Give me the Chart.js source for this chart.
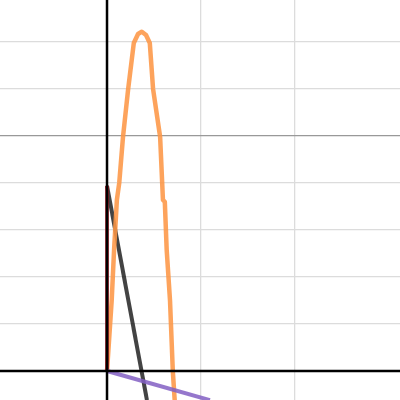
<!DOCTYPE html>
<html>
<head>
<script src="https://cdn.jsdelivr.net/npm/chart.js@4"></script>
<style>html,body{margin:0;padding:0;background:#fff}#wrap{width:400px;height:400px}</style>
</head>
<body>
<div id="wrap"><canvas id="c"></canvas></div>
<script>
// curves (x, y in graph units)
const parabolaX = [0, 0.1, 0.15, 0.21, 0.26, 0.34, 0.45, 0.57, 0.66, 0.74, 0.83, 0.91, 0.98, 1.13, 1.19, 1.23, 1.27, 1.34, 1.40, 1.44];
const parabolaY = [0, 1.51, 2.57, 3.64, 4.0, 4.98, 6.0, 6.98, 7.17, 7.22, 7.15, 6.98, 6.0, 4.98, 3.64, 4.0 - 0.4, 2.57, 1.51, 0, -0.62];
const darkX = [0, 0.85];
const darkY = [3.94, -0.62];
const redX = [0, 0];
const redY = [0, 3.94];
const purpleX = [0, 2.19];
const purpleY = [0, -0.62];
const xRange = [-2.277, 6.234];
const yRange = [-0.617, 7.894];

const pts = (xs, ys) => xs.map((x, i) => ({x, y: ys[i]}));
const line = (data, color, w) => ({data, borderColor: color, borderWidth: w, pointRadius: 0, showLine: true, fill: false, tension: 0, borderJoinStyle: 'round'});

new Chart(document.getElementById('c'), {
  type: 'scatter',
  data: {
    datasets: [
      line(pts([xRange[0], xRange[1]], [0, 0]), '#000', 2.5),
      line(pts([0, 0], [yRange[0], yRange[1]]), '#000', 2.5),
      line(pts(purpleX, purpleY), 'rgba(130,95,195,0.85)', 4),
      line(pts(redX, redY), 'rgba(150,30,40,0.85)', 4),
      line(pts(parabolaX, parabolaY), 'rgba(253,150,70,0.88)', 4.5),
      line(pts(darkX, darkY), 'rgba(20,20,20,0.8)', 4)
    ]
  },
  options: {
    animation: false, responsive: true, maintainAspectRatio: false,
    layout: {padding: 0},
    plugins: {legend: {display: false}, tooltip: {enabled: false}},
    scales: {
      x: {type: 'linear', min: xRange[0], max: xRange[1],
        ticks: {display: false, stepSize: 2},
        afterBuildTicks: s => { s.ticks = s.ticks.filter(t => Math.abs(t.value % 2) < 1e-6); },
        border: {display: false},
        grid: {color: '#dcdcdc', lineWidth: 1.3, drawTicks: false}},
      y: {type: 'linear', min: yRange[0], max: yRange[1],
        ticks: {display: false, stepSize: 1},
        afterBuildTicks: s => { s.ticks = s.ticks.filter(t => Math.abs(t.value - Math.round(t.value)) < 1e-6); },
        border: {display: false},
        grid: {color: c => c.tick && c.tick.value === 5 ? '#999' : '#dcdcdc', lineWidth: 1.3, drawTicks: false}}
    }
  }
});
</script>
</body>
</html>
